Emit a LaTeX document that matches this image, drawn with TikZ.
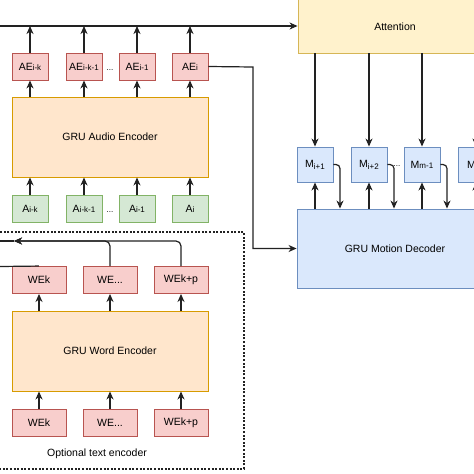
\documentclass[tikz,border=0pt]{standalone}
\usepackage{fontspec}
\setmainfont{Liberation Sans}
\usetikzlibrary{arrows.meta,calc}
\definecolor{pinkF}{HTML}{F8CECC}\definecolor{pinkD}{HTML}{B85450}
\definecolor{greenF}{HTML}{D5E8D4}\definecolor{greenD}{HTML}{82B366}
\definecolor{orF}{HTML}{FFE6CC}\definecolor{orD}{HTML}{D79B00}
\definecolor{yeF}{HTML}{FFF2CC}\definecolor{yeD}{HTML}{D6B656}
\definecolor{blF}{HTML}{DAE8FC}\definecolor{blD}{HTML}{6C8EBF}
\definecolor{edge}{HTML}{222222}
\newcommand\sfx[1]{{\fontsize{8}{9}\selectfont #1}}
\begin{document}
\begin{tikzpicture}[x=1pt,y=-1pt,
  every node/.style={font=\fontsize{10.5}{12}\selectfont, inner sep=0pt},
  base/.style={draw, line width=0.9pt, rectangle},
  pinkbox/.style={base, fill=pinkF, draw=pinkD},
  greenbox/.style={base, fill=greenF, draw=greenD},
  orbox/.style={base, fill=orF, draw=orD},
  yebox/.style={base, fill=yeF, draw=yeD},
  blbox/.style={base, fill=blF, draw=blD},
  small/.style={minimum width=36pt, minimum height=27pt},
  wide/.style={minimum width=54pt, minimum height=27pt},
  mbox/.style={minimum width=36pt, minimum height=35pt},
  arr/.style={draw=edge, line width=1.2pt, -{Stealth[length=8pt,width=7pt,inset=2.5pt]}},
  ln/.style={draw=edge, line width=1.2pt},
  dots/.style={font=\fontsize{8}{9}\selectfont}
]
\useasboundingbox (0,0) rectangle (474,474);

% Attention
\node[yebox, minimum width=194pt, minimum height=58pt] (att) at (395,24) {};
\node (atttxt) at (395,27) {Attention};

% Audio encoder
\node[orbox, minimum width=196pt, minimum height=80pt] (aenc) at (110,137) {GRU Audio Encoder};
\node[pinkbox, small] (ae1) at (30,66.5) {AE\sfx{i-k}};
\node[pinkbox, small] (ae2) at (84,66.5) {AE\sfx{i-k-1}};
\node[pinkbox, small] (ae3) at (137,66.5) {AE\sfx{i-1}};
\node[pinkbox, small] (ae4) at (190,66.5) {AE\sfx{i}};
\node[dots] (d1) at (110,70) {...};
\node[greenbox, small] (a1) at (30,208.5) {A\sfx{i-k}};
\node[greenbox, small] (a2) at (84,208.5) {A\sfx{i-k-1}};
\node[greenbox, small] (a3) at (137,208.5) {A\sfx{i-1}};
\node[greenbox, small] (a4) at (190,208.5) {A\sfx{i}};
\node[dots] (d2) at (110,212) {...};

\coordinate (tl) at (0,26);
\draw[arr] (tl) -- (att.west |- tl);
\foreach \n in {1,2,3,4}{
  \draw[arr] (ae\n.north) -- (ae\n.north |- tl);
  \draw[arr] (aenc.north -| ae\n) -- (ae\n.south);
  \draw[arr] (a\n.north) -- (aenc.south -| a\n);
}

% Motion decoder
\node[blbox, minimum width=196pt, minimum height=79pt] (dec) at (395,248.5) {GRU Motion Decoder};
\node[blbox, mbox] (m1) at (315,164.5) {M\raisebox{-2pt}{\sfx{i+1}}};
\node[blbox, mbox] (m2) at (369,164.5) {M\raisebox{-2pt}{\sfx{i+2}}};
\node[blbox, mbox] (m3) at (422,164.5) {M\sfx{m-1}};
\node[blbox, mbox] (m4) at (476,164.5) {};
\node[anchor=west] (m4t) at (467,164.5) {M};
\node[dots] (d3) at (397,166) {...};

\coordinate (aeout) at (253,67);
\draw[arr] (ae4.east) -- (aeout) |- (dec.west);

\foreach \n/\rx in {1/340,2/394,3/447,4/501}{
  \draw[arr] (att.south -| m\n) -- (m\n.north);
  \draw[arr] (dec.north -| m\n) -- (m\n.south);
  \coordinate (r\n) at (\rx,209);
  \draw[arr, rounded corners=4pt] (m\n.east) -| (r\n |- dec.north);
}

% Optional text encoder
\draw[edge, line width=1.2pt, dash pattern=on 2pt off 1.6pt] (-5,232) rectangle (244,469);
\node[orbox, minimum width=196pt, minimum height=80pt] (wenc) at (110,351) {GRU Word Encoder};
\node[pinkbox, wide] (w1) at (39,280) {WEk};
\node[pinkbox, wide] (w2) at (110,280) {WE...};
\node[pinkbox, wide] (w3) at (181,280) {WEk+p};
\node[pinkbox, wide] (v1) at (39,422.5) {WEk};
\node[pinkbox, wide] (v2) at (110,422.5) {WE...};
\node[pinkbox, wide] (v3) at (181,422.5) {WEk+p};
\node (opt) at (97,454) {Optional text encoder};
\foreach \n in {1,2,3}{
  \draw[arr] (wenc.north -| w\n) -- (w\n.south);
  \draw[arr] (v\n.north) -- (wenc.south -| v\n);
}
\coordinate (wl) at (14,241);
\coordinate (wl0) at (0,241);
\coordinate (wk0) at (0,266.5);
\draw[arr, rounded corners=5pt] (w3.north) |- (wl);
\draw[arr, rounded corners=5pt] (w2.north) |- (wl);
\draw[ln] (wl) -- (wl0);
\draw[ln] (w1.north) -- (wk0);
\end{tikzpicture}
\end{document}
